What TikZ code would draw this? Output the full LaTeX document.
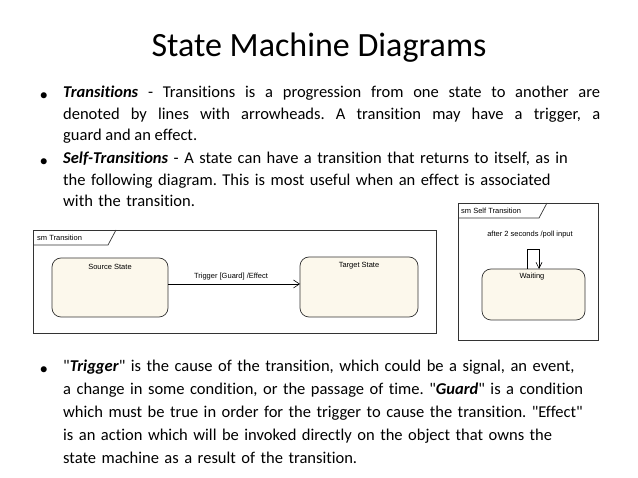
\documentclass[tikz,border=0pt]{standalone}
\usepackage{fontspec}
\usetikzlibrary{arrows.meta}
\setmainfont[Ligatures=NoCommon]{Carlito}
\newfontfamily\dfont{Liberation Sans}
\newcommand{\qq}{\textquotedbl}
\begin{document}
\frenchspacing
\begin{tikzpicture}[x=1pt,y=-1pt,
  frame/.style={draw=black!80,line width=0.7pt},
  state/.style={draw=black!80,fill={rgb,255:red,252;green,248;blue,236},rounded corners=9pt,line width=0.7pt},
  lbl/.style={font=\dfont\fontsize{7.5}{9}\selectfont,inner sep=0pt},
  body/.style={anchor=north west,inner sep=0pt,text width=560pt,align=left,font=\fontsize{16.5}{21.6}\selectfont}]
\useasboundingbox (0,0) rectangle (638,478);
\node (title) at (319,48) {\fontsize{34}{40}\selectfont State Machine Diagrams};
\node[anchor=west] (b1) at (36,97) {\fontsize{17}{20}\selectfont •};
\node[anchor=west] (b2) at (36,163) {\fontsize{17}{20}\selectfont •};
\node[anchor=west] (b3) at (36,371) {\fontsize{17}{20}\selectfont •};
\node[anchor=north west,inner sep=0pt,font=\fontsize{16.5}{21.6}\selectfont] (t1) at (63,86) {\parbox{537pt}{\textbf{\textit{Transitions}} - Transitions is a progression from one state to another are\linebreak denoted by lines with arrowheads. A transition may have a trigger, a\linebreak guard and an effect.}};
\node[body] (t2) at (63,152) {\textbf{\textit{Self-Transitions}} - A state can have a transition that returns to itself, as in\\ the following diagram. This is most useful when an effect is associated\\ with the transition.};
\node[body,font=\fontsize{16.5}{23}\selectfont] (t3) at (63,360) {\qq\textbf{\textit{Trigger}}\qq{} is the cause of the transition, which could be a signal, an event,\\ a change in some condition, or the passage of time. \qq\textbf{\textit{Guard}}\qq{} is a condition\\ which must be true in order for the trigger to cause the transition. \qq Effect\qq\\ is an action which will be invoked directly on the object that owns the\\ state machine as a result of the transition.};
% left frame
\draw[frame] (33,230) rectangle (436,333);
\draw[frame] (33,245) -- (108,245) -- (116,230);
\node[lbl,anchor=west] (f1) at (37,238) {sm Transition};
\draw[state] (52,258) rectangle (168,317);
\draw[state] (300,257) rectangle (418,317);
\coordinate (s) at (168,284);
\coordinate (t) at (300,284);
\node[lbl] (sl) at (110,267) {Source State};
\node[lbl] (tl) at (359,266) {Target State};
\draw[line width=0.6pt,-{Straight Barb[length=6pt,width=8pt]}] (s) -- (t) node[lbl,midway,above=4pt,xshift=-3pt] {Trigger [Guard] /Effect};
% right frame
\draw[frame] (458,203) rectangle (598,340);
\draw[frame] (458,218) -- (539,218) -- (547,203);
\node[lbl,anchor=west] (f2) at (461,211) {sm Self Transition};
\draw[state] (482,269) rectangle (585,320);
\node[lbl] (wl) at (532,277) {Waiting};
\node[lbl] (al) at (530,235) {after 2 seconds /poll input};
\coordinate (p1) at (527,269);
\coordinate (p2) at (539,269);
\draw[line width=0.6pt,-{Straight Barb[length=6pt,width=6pt]}] (p1) -- (527,249) -- (539,249) -- (p2);
\end{tikzpicture}
\end{document}
